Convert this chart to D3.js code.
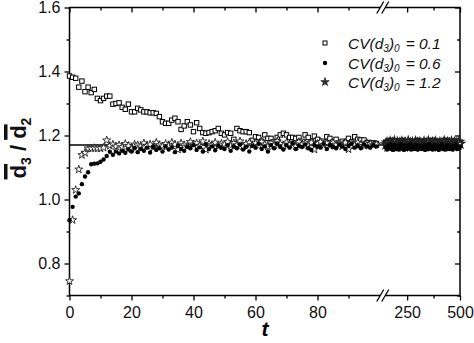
<!DOCTYPE html>
<html><head><meta charset="utf-8">
<script src="https://cdn.jsdelivr.net/npm/d3@7"></script>
<style>
body{margin:0;background:#fff;}
svg{display:block;font-family:"Liberation Sans",Arial,sans-serif;}
</style></head>
<body><svg id="c" width="474" height="343"></svg>
<script>
// ---------------- data ----------------
const tLeft = d3.range(0, 100);   // t = 0,1,...,99
const tRight = [150,155,160,165,170,175,180,185,190,195,200,205,210,215,220,225,230,235,240,245,
250,255,260,265,270,275,280,285,290,295,300,305,310,315,320,325,330,335,340,345,
350,355,360,365,370,375,380,385,390,395,400,405,410,415,420,425,430,435,440,445,
450,455,460,465,470,475,480,485,490,495,500];

const squaresLeft = [1.386,1.382,1.379,1.351,1.370,1.337,1.351,1.334,1.344,1.316,1.309,1.316,1.323,1.323,1.298,1.300,1.302,1.288,1.282,1.298,
1.274,1.274,1.285,1.280,1.274,1.274,1.271,1.271,1.269,1.259,1.243,1.238,1.238,1.248,1.254,1.243,1.219,1.230,1.243,1.233,
1.212,1.240,1.222,1.209,1.207,1.209,1.212,1.215,1.222,1.207,1.202,1.209,1.207,1.188,1.222,1.215,1.212,1.212,1.209,1.185,
1.196,1.194,1.182,1.202,1.191,1.191,1.180,1.194,1.202,1.207,1.202,1.194,1.194,1.191,1.194,1.182,1.202,1.194,1.180,1.198,
1.188,1.178,1.182,1.196,1.191,1.180,1.188,1.176,1.182,1.178,1.191,1.180,1.196,1.188,1.186,1.186,1.178,1.177,1.177,1.175];
const circlesLeft = [0.935,0.977,1.009,1.019,1.048,1.072,1.085,1.110,1.112,1.113,1.118,1.125,1.136,1.149,1.140,1.150,1.144,1.152,1.146,1.156,
1.150,1.160,1.148,1.158,1.152,1.162,1.147,1.164,1.155,1.160,1.150,1.166,1.156,1.162,1.148,1.168,1.158,1.152,1.165,1.160,
1.170,1.155,1.163,1.150,1.172,1.158,1.166,1.154,1.168,1.162,1.158,1.170,1.152,1.166,1.160,1.172,1.156,1.165,1.150,1.168,
1.162,1.174,1.158,1.166,1.150,1.170,1.160,1.175,1.164,1.156,1.170,1.162,1.176,1.158,1.168,1.164,1.172,1.160,1.155,1.170,
1.166,1.162,1.174,1.158,1.170,1.164,1.160,1.172,1.166,1.158,1.168,1.174,1.162,1.168,1.160,1.172,1.166,1.162,1.170,1.166];
const starsLeft = [0.745,0.936,1.030,1.094,1.139,1.146,1.160,1.160,1.161,1.160,1.160,1.162,1.185,1.168,1.172,1.166,1.170,1.164,1.174,1.168,
1.158,1.172,1.170,1.166,1.176,1.168,1.172,1.162,1.178,1.170,1.166,1.174,1.168,1.178,1.172,1.156,1.176,1.170,1.166,1.180,
1.172,1.176,1.168,1.182,1.156,1.174,1.170,1.178,1.166,1.175,1.172,1.180,1.168,1.176,1.170,1.182,1.166,1.174,1.178,1.170,
1.176,1.168,1.180,1.172,1.166,1.176,1.170,1.182,1.174,1.168,1.178,1.172,1.176,1.166,1.180,1.172,1.176,1.168,1.178,1.156,
1.174,1.180,1.170,1.176,1.168,1.178,1.172,1.174,1.166,1.178,1.157,1.176,1.170,1.178,1.172,1.168,1.176,1.174,1.170,1.172];

const squaresRight = [1.178,1.172,1.182,1.176,1.170,1.184,1.174,1.178,1.168,1.180,
1.176,1.172,1.182,1.170,1.178,1.174,1.184,1.168,1.176,1.180,
1.172,1.178,1.170,1.182,1.176,1.174,1.180,1.168,1.178,1.172,
1.184,1.176,1.170,1.180,1.174,1.178,1.182,1.170,1.176,1.172,
1.180,1.168,1.178,1.184,1.174,1.170,1.176,1.182,1.172,1.178,
1.168,1.180,1.174,1.176,1.182,1.170,1.178,1.172,1.184,1.176,
1.170,1.180,1.174,1.178,1.168,1.182,1.176,1.172,1.180,1.174,1.178];
const circlesRight = [1.162,1.156,1.168,1.160,1.172,1.158,1.166,1.155,1.170,1.162,
1.158,1.168,1.156,1.164,1.172,1.160,1.166,1.155,1.170,1.162,
1.158,1.168,1.160,1.172,1.156,1.166,1.162,1.158,1.170,1.164,
1.156,1.168,1.160,1.166,1.158,1.164,1.170,1.155,1.162,1.168,
1.158,1.172,1.160,1.166,1.156,1.164,1.170,1.158,1.162,1.168,
1.155,1.166,1.160,1.172,1.158,1.164,1.156,1.168,1.162,1.170,
1.158,1.166,1.160,1.156,1.168,1.162,1.172,1.158,1.164,1.160,1.166];
const starsRight = [1.172,1.178,1.166,1.174,1.180,1.168,1.176,1.170,1.182,1.166,
1.174,1.178,1.170,1.176,1.168,1.180,1.172,1.166,1.178,1.174,
1.170,1.182,1.168,1.176,1.172,1.178,1.166,1.174,1.180,1.170,
1.176,1.168,1.178,1.172,1.166,1.174,1.180,1.170,1.176,1.168,
1.182,1.172,1.174,1.166,1.178,1.170,1.176,1.180,1.168,1.174,
1.172,1.178,1.166,1.176,1.170,1.182,1.174,1.168,1.178,1.172,
1.176,1.166,1.180,1.170,1.174,1.178,1.168,1.176,1.172,1.180,1.174];

const equilibrium = 1.17;
const xTicksLeft = [0,20,40,60,80];
const xMinorLeft = [10,30,50,70,90];
const xTicksRight = [250,500];
const xMinorRight = [375];
const yTicks = [0.8,1.0,1.2,1.4,1.6];
const yMinor = [0.7,0.9,1.1,1.3,1.5];
const legendLabels = ["0.1","0.6","1.2"];

// ---------------- scales ----------------
const svg = d3.select("#c");
const L = 69.5, R = 460, T = 7.5, B = 295.5;
const xL = d3.scaleLinear().domain([0,100]).range([L, 379.5]);
const xR = d3.scaleLinear().domain([150,500]).range([386, R]);
const y = d3.scaleLinear().domain([0.7,1.6]).range([B, T]);
const xBreak = (xL(100) + xR(150)) / 2;

// frame
svg.append("rect").attr("x",L).attr("y",T).attr("width",R-L).attr("height",B-T)
  .attr("fill","none").attr("stroke","#000").attr("stroke-width",1.5);

function styleAxis(g){
  g.select(".domain").remove();
  g.selectAll("line").attr("stroke","#000").attr("stroke-width",1.3);
  g.selectAll("text").attr("font-size",16).attr("fill","#111");
}
// bottom axes (outward)
svg.append("g").attr("transform",`translate(0,${B})`)
  .call(d3.axisBottom(xL).tickValues(xTicksLeft).tickSize(5).tickPadding(6).tickFormat(d3.format("d"))).call(styleAxis);
svg.append("g").attr("transform",`translate(0,${B})`)
  .call(d3.axisBottom(xL).tickValues(xMinorLeft).tickSize(3).tickFormat("")).call(styleAxis);
svg.append("g").attr("transform",`translate(0,${B})`)
  .call(d3.axisBottom(xR).tickValues(xTicksRight).tickSize(5).tickPadding(6).tickFormat(d3.format("d"))).call(styleAxis);
svg.append("g").attr("transform",`translate(0,${B})`)
  .call(d3.axisBottom(xR).tickValues(xMinorRight).tickSize(3).tickFormat("")).call(styleAxis);
// top axes (inward)
svg.append("g").attr("transform",`translate(0,${T})`)
  .call(d3.axisBottom(xL).tickValues(xTicksLeft).tickSize(5).tickFormat("")).call(styleAxis);
svg.append("g").attr("transform",`translate(0,${T})`)
  .call(d3.axisBottom(xL).tickValues(xMinorLeft).tickSize(3).tickFormat("")).call(styleAxis);
svg.append("g").attr("transform",`translate(0,${T})`)
  .call(d3.axisBottom(xR).tickValues(xTicksRight).tickSize(5).tickFormat("")).call(styleAxis);
svg.append("g").attr("transform",`translate(0,${T})`)
  .call(d3.axisBottom(xR).tickValues(xMinorRight).tickSize(3).tickFormat("")).call(styleAxis);
// left axis (outward)
svg.append("g").attr("transform",`translate(${L},0)`)
  .call(d3.axisLeft(y).tickValues(yTicks).tickSize(5).tickPadding(4).tickFormat(d3.format(".1f"))).call(styleAxis);
svg.append("g").attr("transform",`translate(${L},0)`)
  .call(d3.axisLeft(y).tickValues(yMinor).tickSize(3).tickFormat("")).call(styleAxis);
// right axis (inward)
svg.append("g").attr("transform",`translate(${R},0)`)
  .call(d3.axisLeft(y).tickValues(yTicks).tickSize(5).tickFormat("")).call(styleAxis);
svg.append("g").attr("transform",`translate(${R},0)`)
  .call(d3.axisLeft(y).tickValues(yMinor).tickSize(3).tickFormat("")).call(styleAxis);

// axis break marks
[T, B].forEach(y0 => {
  svg.append("polygon")
    .attr("points",`${xBreak-5},${y0+6} ${xBreak},${y0+6} ${xBreak+5},${y0-6} ${xBreak},${y0-6}`)
    .attr("fill","#fff");
  [-2.5, 2.5].forEach(o => {
    svg.append("line").attr("x1",xBreak+o-3.5).attr("y1",y0+6).attr("x2",xBreak+o+3.5).attr("y2",y0-6)
      .attr("stroke","#000").attr("stroke-width",1.3);
  });
});

// equilibrium line
svg.append("line").attr("x1",xL(0)).attr("x2",xR(500)).attr("y1",y(equilibrium)).attr("y2",y(equilibrium))
  .attr("stroke","#000").attr("stroke-width",1.5);

// markers
const star = d3.symbol().type(d3.symbolStar).size(20);
function drawSeries(ts, vals, xs, kind, sw){
  const data = ts.map((t,i)=>({t, v: vals[i]}));
  const g = svg.append("g");
  if(kind==="square"){
    g.selectAll("rect").data(data).join("rect")
      .attr("x",d=>xs(d.t)-2.2).attr("y",d=>y(d.v)-2.2).attr("width",4.4).attr("height",4.4)
      .attr("fill","#fff").attr("stroke","#000").attr("stroke-width",sw);
  } else if(kind==="circle"){
    g.selectAll("circle").data(data).join("circle")
      .attr("cx",d=>xs(d.t)).attr("cy",d=>y(d.v)).attr("r",2.2).attr("fill","#000");
  } else {
    g.selectAll("path").data(data).join("path")
      .attr("d",star).attr("transform",d=>`translate(${xs(d.t)},${y(d.v)})`)
      .attr("fill","#fff").attr("stroke","#222").attr("stroke-width",sw);
  }
}
drawSeries(tLeft, squaresLeft, xL, "square", 1.0);
drawSeries(tRight, squaresRight, xR, "square", 1.6);
drawSeries(tLeft, starsLeft, xL, "star", 0.9);
drawSeries(tRight, starsRight, xR, "star", 1.6);
drawSeries(tLeft, circlesLeft, xL, "circle");
drawSeries(tRight, circlesRight, xR, "circle");

// legend
const legY = [43, 63, 82];
const lx = 325, tx = 348;
svg.append("rect").attr("x",lx-2).attr("y",legY[0]-2).attr("width",4).attr("height",4)
  .attr("fill","#fff").attr("stroke","#000").attr("stroke-width",1);
svg.append("circle").attr("cx",lx).attr("cy",legY[1]).attr("r",2.2).attr("fill","#000");
svg.append("path").attr("d",d3.symbol().type(d3.symbolStar).size(22)).attr("transform",`translate(${lx},${legY[2]})`)
  .attr("fill","#333").attr("stroke","#000").attr("stroke-width",0.6);
legendLabels.forEach((lab,i)=>{
  const t = svg.append("text").attr("x",tx).attr("y",legY[i]+5.5).attr("font-size",15.5)
    .attr("font-style","italic").attr("fill","#111");
  t.append("tspan").text("CV(d");
  t.append("tspan").attr("font-size",10).attr("dy",3).text("3");
  t.append("tspan").attr("dy",-3).text(")");
  t.append("tspan").attr("font-size",10).attr("dy",3).text("0");
  t.append("tspan").attr("dy",-3).attr("dx",6).text("= " + lab);
});

// x label
svg.append("text").attr("x",265).attr("y",336).attr("text-anchor","middle")
  .attr("font-size",21).attr("font-weight","bold").attr("font-style","italic").text("t");

// y label
const yl = svg.append("text").attr("transform","translate(26,148) rotate(-90)")
  .attr("text-anchor","middle").attr("font-size",22).attr("font-weight","bold").attr("fill","#111");
yl.append("tspan").text("d");
yl.append("tspan").attr("font-size",14).attr("dy",5).text("3");
yl.append("tspan").attr("dy",-5).text(" / ");
yl.append("tspan").text("d");
yl.append("tspan").attr("font-size",14).attr("dy",5).text("2");
// overbars on the two "d" glyphs
const node = yl.node();
[0, 5].forEach(ci => {
  const e = node.getExtentOfChar(ci);
  svg.append("rect").attr("transform","translate(26,148) rotate(-90)")
    .attr("x", e.x - 1).attr("y", e.y - 2).attr("width", e.width + 2).attr("height", 3.5).attr("fill","#111");
});
</script></body></html>
